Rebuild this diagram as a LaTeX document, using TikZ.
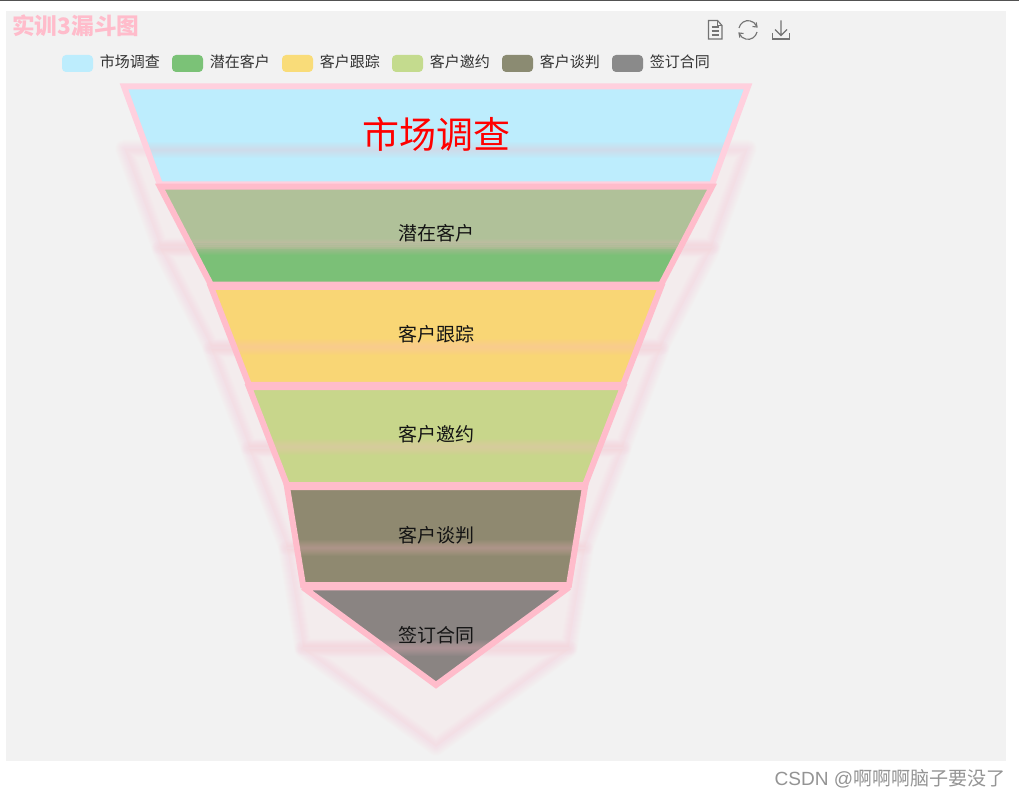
\documentclass[tikz,border=0pt]{standalone}
\usepackage{fontspec}
\setmainfont{Liberation Sans}
\newfontfamily\cjk{Noto Sans CJK SC}
\definecolor{panel}{HTML}{F2F2F2}
\definecolor{sp}{HTML}{FFBCCB}
\definecolor{spg}{HTML}{FFC8CB}
\definecolor{spl}{HTML}{FFD0DE}
\definecolor{shd}{HTML}{FFC4D2}
\definecolor{cA}{HTML}{BDEDFD}
\definecolor{cB}{HTML}{7BC077}
\definecolor{cC}{HTML}{F9D675}
\definecolor{cD}{HTML}{C8D68B}
\definecolor{cE}{HTML}{8F8970}
\definecolor{cF}{HTML}{8A8482}
\definecolor{lA}{HTML}{BDEDFD}
\definecolor{lB}{HTML}{7BC277}
\definecolor{lC}{HTML}{F9DC79}
\definecolor{lD}{HTML}{C4DB8E}
\definecolor{lE}{HTML}{8B8B72}
\definecolor{lF}{HTML}{8A8A8A}
\def\secA{(124,86.5) -- (748,86.5) -- (712,184.5) -- (160,184.5) -- cycle}
\def\secB{(160,186.7) -- (712,186.7) -- (661,284.7) -- (211,284.7) -- cycle}
\def\secC{(211,286.9) -- (661,286.9) -- (623,384.9) -- (249,384.9) -- cycle}
\def\secD{(249,387) -- (623,387) -- (585,485) -- (287,485) -- cycle}
\def\secE{(287,487) -- (585,487) -- (569,585) -- (303,585) -- cycle}
\def\secF{(303,587.3) -- (569,587.3) -- (436,685) -- cycle}
\newcommand{\pinkband}[1]{%
  \foreach \h in {8,7,6,5,4,3,2,1}{\fill[sp,opacity=.045] (100,#1-\h) rectangle (780,#1+\h);}}
\tikzset{
  legendswatch/.style={rounded corners=3pt,minimum width=23.25pt,minimum height=12.75pt,inner sep=0,draw=none},
  legendtext/.style={font=\cjk\fontsize{11.25pt}{12pt}\selectfont,text=black!80,anchor=west,inner sep=0},
  seclabel/.style={font=\cjk\fontsize{14.25pt}{15pt}\selectfont,text=black!92,inner sep=0},
  funnelline/.style={line width=4.5pt,miter limit=2,line join=miter},
  toolicon/.style={draw=black!55,line width=0.85pt}
}
\begin{document}
\begin{tikzpicture}[x=0.75pt,y=-0.75pt]
\useasboundingbox (0,0) rectangle (1019,798);
\fill[white] (0,0) rectangle (1019,798);
\fill[black!68] (0,0) rectangle (1019,1.3);
\fill[panel] (6,11) rectangle (1006,761);

% blurred shadow of the funnel
\begin{scope}[shift={(0,62)}]
  \foreach \p in {\secA,\secB,\secC,\secD,\secE,\secF}{
    \fill[shd,opacity=.13] \p;
    \foreach \w in {13,11.5,10,8.5,7,5.5,4,2.5}{
      \draw[shd,opacity=.03,line width=\w pt,line join=round] \p;
    }
  }
\end{scope}

% fills
\fill[cA] \secA;
\fill[cB] \secB;
\fill[cC] \secC;
\fill[cD] \secD;
\fill[cE] \secE;
\fill[cF] \secF;

% shadow stripes seen through the sections
\begin{scope}\clip \secA; \pinkband{150} \end{scope}
\begin{scope}\clip \secB;
  \foreach \h in {243,245,247,249}{\fill[spg,opacity=.125] (100,180) rectangle (780,\h);}
  \pinkband{247}
\end{scope}
\begin{scope}\clip \secC; \pinkband{347} \end{scope}
\begin{scope}\clip \secD; \pinkband{447} \end{scope}
\begin{scope}\clip \secE; \pinkband{548} \end{scope}
\begin{scope}\clip \secF; \pinkband{648} \end{scope}

% outlines
\draw[spl,funnelline] \secA;
\draw[sp,funnelline] \secB;
\draw[sp,funnelline] \secC;
\draw[sp,funnelline] \secD;
\draw[sp,funnelline] \secE;
\draw[sp,funnelline] \secF;

% labels
\node[inner sep=0,text=red,font=\cjk\fontsize{27.75pt}{29pt}\selectfont] (labA) at (436.5,134) {市场调查};
\node[seclabel] (labB) at (436,233) {潜在客户};
\node[seclabel] (labC) at (436,334) {客户跟踪};
\node[seclabel] (labD) at (436,434) {客户邀约};
\node[seclabel] (labE) at (436,535) {客户谈判};
\node[seclabel] (labF) at (436,635) {签订合同};

% title
\node[anchor=west,inner sep=0,text=sp,font=\cjk\bfseries\fontsize{17pt}{18pt}\selectfont] (title) at (12,26) {实训3漏斗图};

% legend
\node[legendswatch,fill=lA] (swA) at (77.5,63.5) {};
\node[legendswatch,fill=lB] (swB) at (187.5,63.5) {};
\node[legendswatch,fill=lC] (swC) at (297.5,63.5) {};
\node[legendswatch,fill=lD] (swD) at (407.5,63.5) {};
\node[legendswatch,fill=lE] (swE) at (517.5,63.5) {};
\node[legendswatch,fill=lF] (swF) at (627.5,63.5) {};
\node[legendtext] (ltA) at (99.7,61.5) {市场调查};
\node[legendtext] (ltB) at (209.7,61.5) {潜在客户};
\node[legendtext] (ltC) at (319.7,61.5) {客户跟踪};
\node[legendtext] (ltD) at (429.7,61.5) {客户邀约};
\node[legendtext] (ltE) at (539.7,61.5) {客户谈判};
\node[legendtext] (ltF) at (649.7,61.5) {签订合同};

% toolbox icons
\draw[toolicon] (708.5,20.5) -- (717.5,20.5) -- (722,25.5) -- (722,39) -- (708.5,39) -- cycle;
\draw[toolicon] (717.5,20.5) -- (717.5,25.5) -- (722,25.5);
\draw[toolicon] (711.5,27) -- (719,27) (711.5,31) -- (719,31) (711.5,35) -- (719,35);
\draw[toolicon] (739,28) arc[start angle=192,end angle=335,radius=9.3];
\draw[toolicon] (757,32) arc[start angle=12,end angle=155,radius=9.3];
\draw[toolicon] (756.2,22.5) -- (757,27) -- (752.5,26.5);
\draw[toolicon] (739.8,37.5) -- (739,33) -- (743.5,33.5);
\draw[toolicon] (781,20.5) -- (781,35.5) (775,29.5) -- (781,35.5) -- (787,29.5);
\draw[toolicon] (772.8,33) -- (772.8,39) -- (789.8,39) -- (789.8,33);

% watermark
\node[anchor=east,inner sep=0,text=black!42,font=\fontsize{14.3pt}{16pt}\selectfont] (mark) at (1006,779) {CSDN @{\cjk 啊啊啊脑子要没了}};
\end{tikzpicture}
\end{document}
